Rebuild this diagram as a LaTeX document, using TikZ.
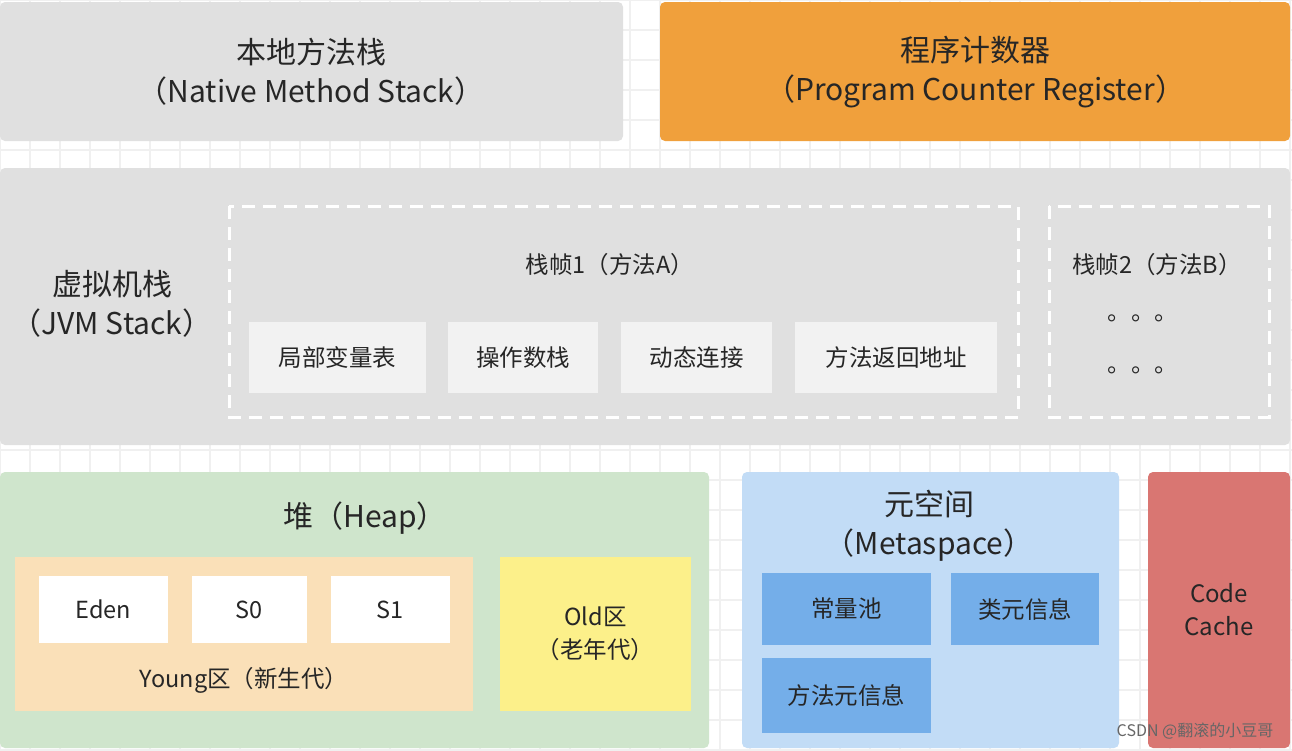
\documentclass[tikz,border=0pt]{standalone}
\usepackage{fontspec}
\setmainfont{Noto Sans CJK SC}
\begin{document}
\begin{tikzpicture}[x=1pt,y=-1pt,
  box/.style={rounded corners=5pt,draw=none},
  big/.style={font=\fontsize{30}{39}\selectfont,align=center,text=black!85},
  mid/.style={font=\fontsize{23.5}{33}\selectfont,align=center,text=black!85},
  wdash/.style={draw=white,line width=3pt,dash pattern=on 13pt off 8pt}]
\useasboundingbox (0,0) rectangle (1292,750);
\fill[white] (0,0) rectangle (1292,750);
\foreach \x in {0,30,...,1290} \draw[black!6,line width=1.5pt] (\x,0) -- (\x,750);
\foreach \y in {0,30,...,750} \draw[black!6,line width=1.5pt] (0,\y) -- (1292,\y);
% top
\fill[box,fill=black!12] (0,2) rectangle (623,141);
\node[big] (nms) at (311,72) {本地方法栈\\（Native Method Stack）};
\fill[box,fill={rgb,255:red,240;green,160;blue,60}] (660,2) rectangle (1290,141);
\node[big] (pc) at (975,72) {程序计数器\\（Program Counter Register）};
% JVM stack
\fill[box,fill=black!12] (0,168) rectangle (1290,445);
\node[big] (jvm) at (112,304) {虚拟机栈\\（JVM Stack）};
\draw[wdash] (229,206) rectangle (1018,417);
\node[mid] (f1) at (610,265) {栈帧1（方法A）};
\foreach \a/\b/\t/\n in {249/426/局部变量表/lv,448/598/操作数栈/os,621/772/动态连接/dl,795/997/方法返回地址/ra}
  \node[mid,fill=black!5,minimum width={\b-\a},minimum height=71,inner sep=0pt] (\n) at ({(\a+\b)/2},357.5) {\t};
\draw[wdash] (1049,206) rectangle (1269,417);
\node[mid] (f2) at (1157,265) {栈帧2（方法B）};
\node[mid] (d1) at (1143,318) {。。。};
\node[mid] (d2) at (1143,370) {。。。};
% heap
\fill[box,fill={rgb,255:red,207;green,229;blue,204}] (0,472) rectangle (709,748);
\node[big] (heap) at (365,518) {堆（Heap）};
\fill[fill={rgb,255:red,250;green,224;blue,184}] (15,557) rectangle (473,711);
\foreach \a/\b/\t/\n in {39/168/Eden/eden,192/307/S0/s0,331/450/S1/s1}
  \node[mid,fill=white,minimum width={\b-\a},minimum height=67,inner sep=0pt] (\n) at ({(\a+\b)/2},609.5) {\t};
\node[mid] (young) at (244,680) {Young区（新生代）};
\node[mid,fill={rgb,255:red,252;green,240;blue,138},minimum width=191,minimum height=154,inner sep=0pt] (old) at (595.5,634) {Old区\\（老年代）};
% metaspace
\fill[box,fill={rgb,255:red,194;green,220;blue,246}] (742,472) rectangle (1119,748);
\node[big] (meta) at (929,526) {元空间\\（Metaspace）};
\tikzset{bl/.style={mid,fill={rgb,255:red,116;green,174;blue,233},inner sep=0pt}}
\node[bl,minimum width=169,minimum height=72] (cp) at (846.5,609) {常量池};
\node[bl,minimum width=148,minimum height=72] (cm) at (1025,609) {类元信息};
\node[bl,minimum width=169,minimum height=75] (mm) at (846.5,695.5) {方法元信息};
% code cache
\fill[box,fill={rgb,255:red,217;green,118;blue,114}] (1148,472) rectangle (1290,748);
\node[mid,font=\fontsize{24}{33}\selectfont] (cc) at (1219,610) {Code\\Cache};
\node[font=\fontsize{16}{20}\selectfont,text=black!60] (wm) at (1195,731) {CSDN @翻滚的小豆哥};
\end{tikzpicture}
\end{document}
